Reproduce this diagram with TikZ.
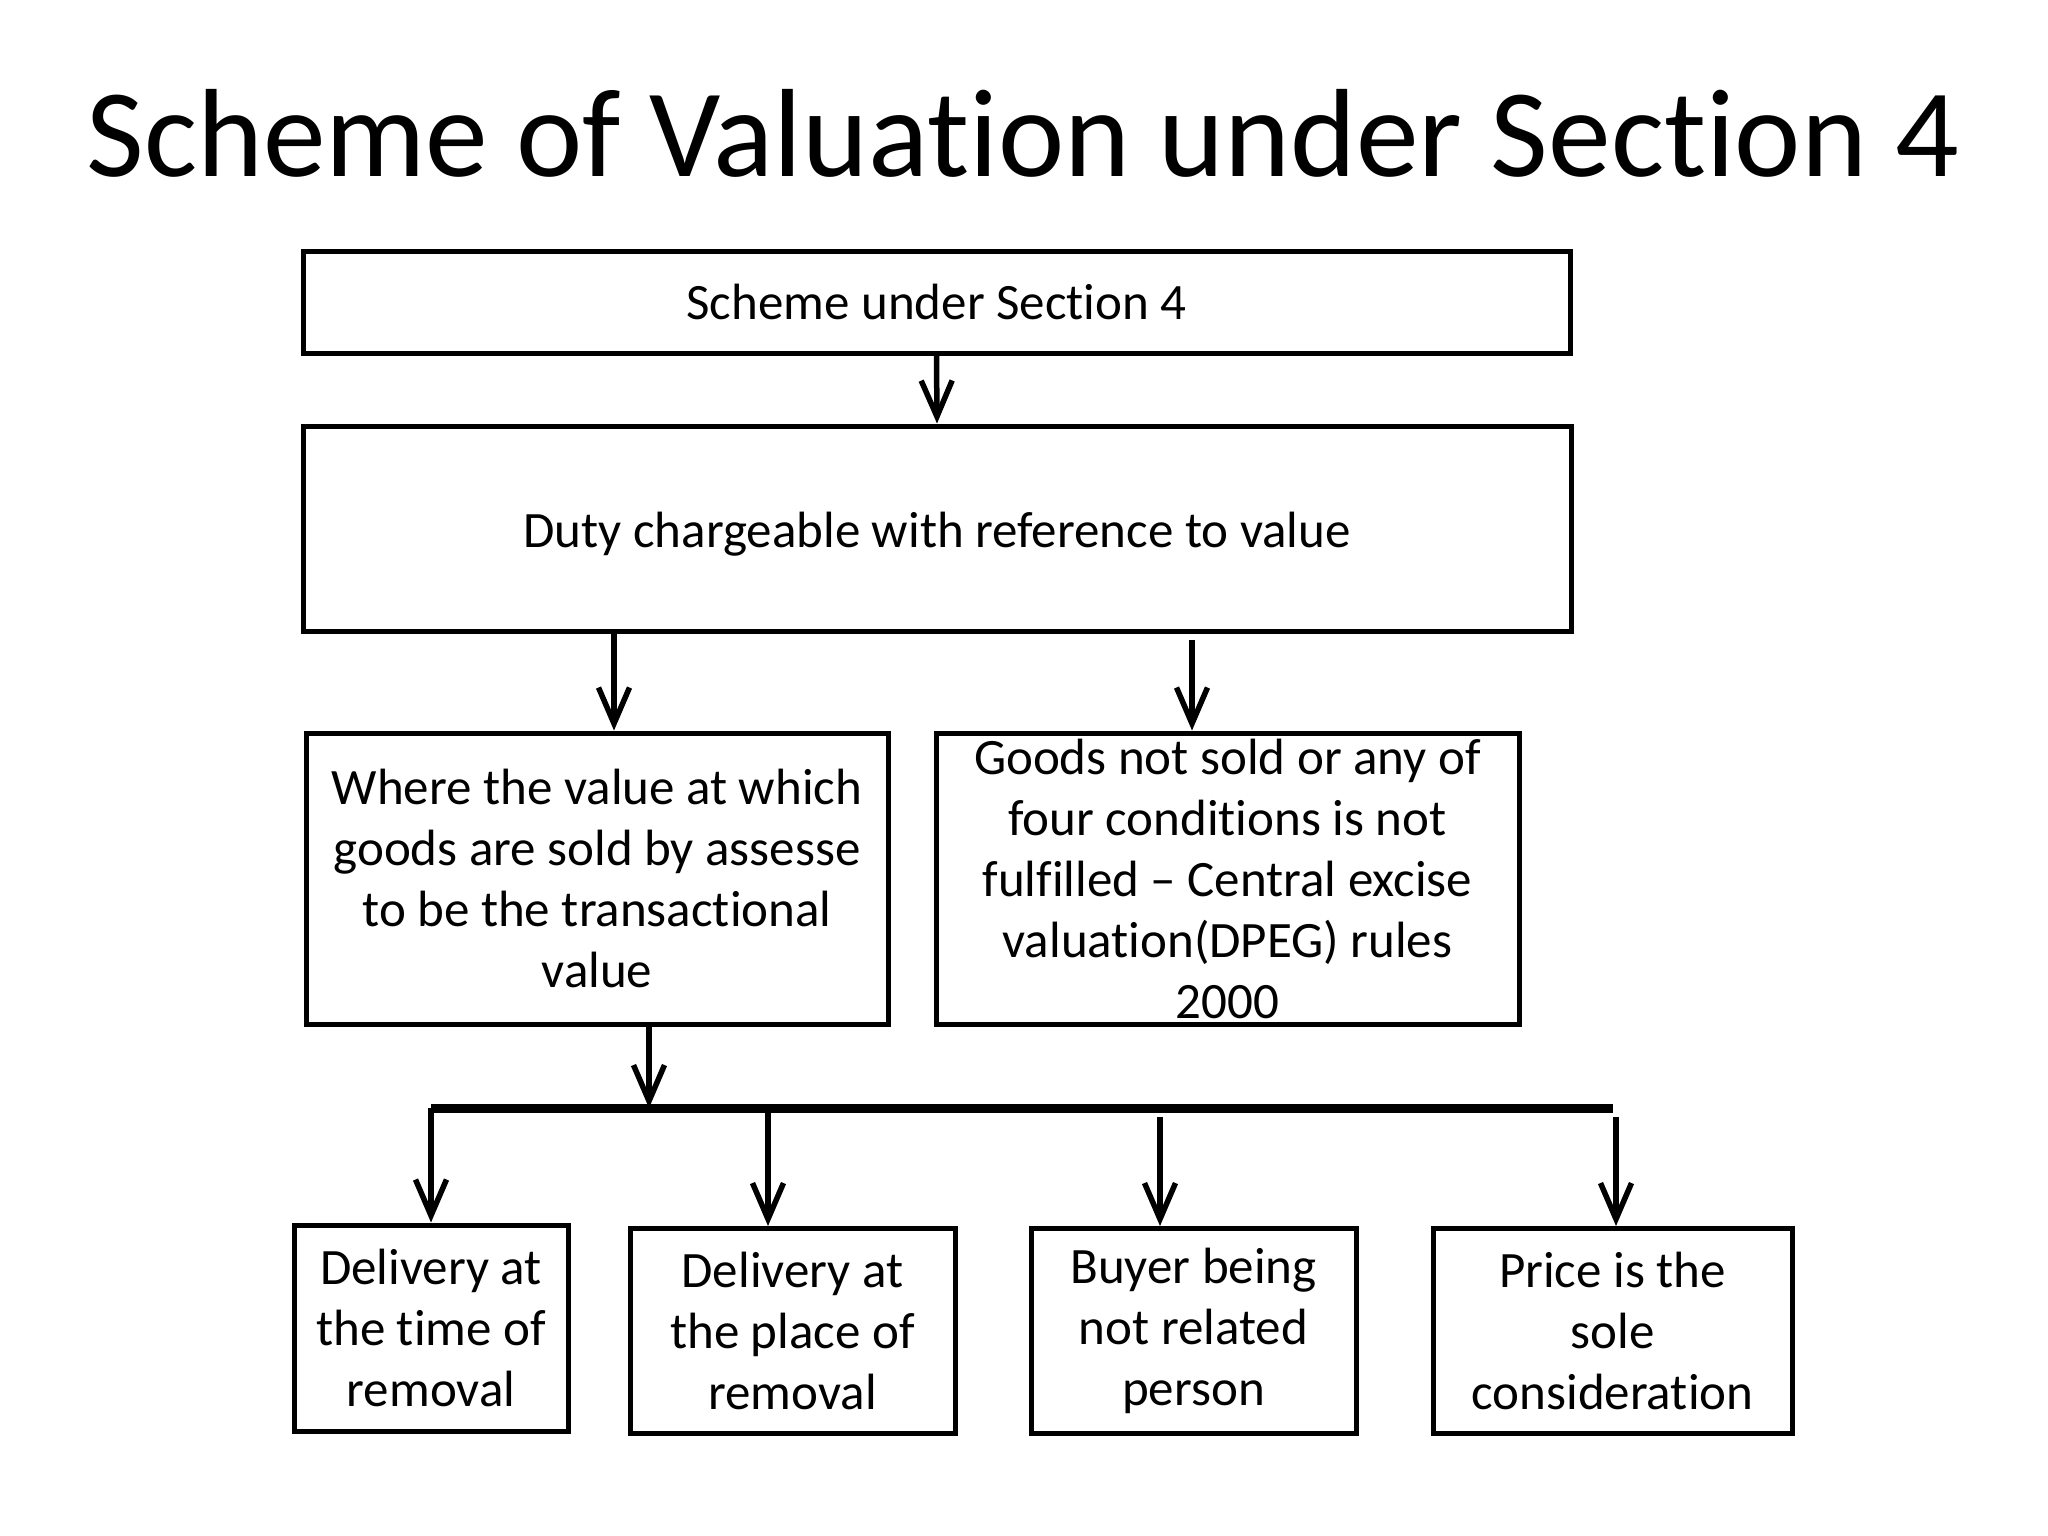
\documentclass[tikz,border=0pt]{standalone}
\usepackage{fontspec}
\setmainfont[Ligatures=NoCommon]{Carlito}
\usetikzlibrary{arrows.meta}
\tikzset{
  box/.style={draw=black, line width=5pt, fill=white, inner sep=0pt, align=center,
    font=\fontsize{51}{61}\selectfont},
  arr/.style={draw=black, line width=5.5pt, -{Straight Barb[length=36pt,width=31pt,line width=5.5pt]}},
  barline/.style={draw=black, line width=9pt},
}
\begin{document}
\begin{tikzpicture}[x=1pt,y=-1pt]
\useasboundingbox (0,0) rectangle (2048,1536);
\node[font=\fontsize{125.5}{140}\selectfont, anchor=base] (title) at (1023,176) {Scheme of Valuation under Section 4};
% boxes
\node[box, minimum width=1267pt, minimum height=102pt] (b1) at (936.5,302) {Scheme under Section 4};
\node[box, minimum width=1268pt, minimum height=205pt, text height=46pt, text depth=8pt] (b2) at (937,528.5) {Duty chargeable with reference to value};
\node[box, minimum width=582pt, minimum height=291pt] (b3) at (597,878.5) {Where the value at which\\goods are sold by assesse\\to be the transactional\\value};
\node[box, minimum width=583pt, minimum height=291pt] (b4) at (1227.5,878.5) {Goods not sold or any of\\four conditions is not\\fulfilled -- Central excise\\valuation(DPEG) rules\\2000};
\node[box, minimum width=274pt, minimum height=206pt] (c1) at (431,1328) {Delivery at\\the time of\\removal};
\node[box, minimum width=325pt, minimum height=205pt] (c2) at (792.5,1331) {Delivery at\\the place of\\removal};
\node[box, minimum width=325pt, minimum height=205pt] (c3) at (1193.5,1331) {Buyer being\\not related\\person};
\node[box, minimum width=359pt, minimum height=205pt] (c4) at (1612.5,1331) {Price is the\\sole\\consideration};
% helper coordinates
\coordinate (xa) at (614,0);
\coordinate (xb) at (1192,0);
\coordinate (xc) at (649,0);
\coordinate (xd) at (768,0);
\coordinate (xe) at (1160,0);
\coordinate (xf) at (1616,0);
\coordinate (barL) at (431,1108);
\coordinate (barR) at (1613,1108);
% connectors
\draw[arr] (b1.south) -- (b2.north);
\draw[arr] (b2.south -| xa) -- (b3.north -| xa);
\draw[arr] ([yshift=-6pt]b2.south -| xb) -- (b4.north -| xb);
\draw[arr] (b3.south -| xc) -- (barL -| xc);
\draw[barline] (barL) -- (barR);
\draw[arr] (barL) -- (c1.north);
\draw[arr] (barL -| xd) -- (c2.north -| xd);
\draw[arr] ([yshift=-9pt]barL -| xe) -- (c3.north -| xe);
\draw[arr] ([yshift=-9pt]barL -| xf) -- (c4.north -| xf);
\end{tikzpicture}
\end{document}
